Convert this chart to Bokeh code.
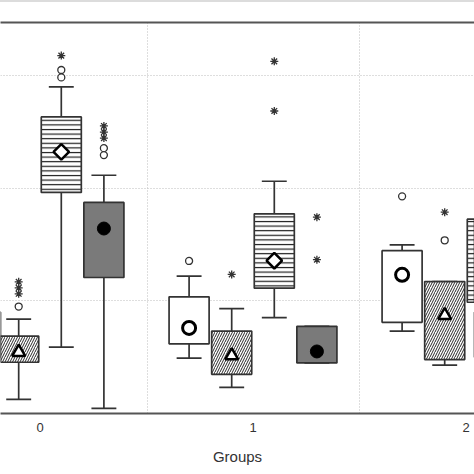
import math
from bokeh.plotting import figure
from bokeh.models import ColumnDataSource, FixedTicker, LinearAxis, Range1d, Div
from bokeh.layouts import column
from bokeh.embed import file_html
from bokeh.resources import INLINE

# ---------------- data ----------------
groups = [0, 1, 2]
group_labels = ["0", "1", "2"]
x_title = "Groups"

series_names = ["circle", "triangle", "diamond", "dot"]
offsets = [-0.3, -0.1, 0.1, 0.3]

# lower whisker, Q1, centre marker, Q3, upper whisker for groups 0, 1, 2
circle_lo = [3.0, 4.91, 7.32]
circle_q1 = [5.0, 6.19, 8.10]
circle_mid = [7.0, 7.60, 12.32]
circle_q3 = [9.0, 10.36, 14.46]
circle_hi = [12.0, 12.20, 14.97]

triangle_lo = [1.25, 2.32, 4.29]
triangle_q1 = [4.55, 3.48, 4.79]
triangle_mid = [5.45, 5.15, 8.72]
triangle_q3 = [6.88, 7.32, 11.72]
triangle_hi = [8.39, 9.31, 11.72]

diamond_lo = [5.89, 8.51, 7.0]
diamond_q1 = [19.64, 11.13, 9.88]
diamond_mid = [23.24, 13.57, 13.0]
diamond_q3 = [26.34, 17.74, 17.26]
diamond_hi = [29.02, 20.63, 20.0]

dot_lo = [0.45, 4.49, 3.0]
dot_q1 = [12.08, 4.49, 5.0]
dot_mid = [16.43, 5.51, 7.0]
dot_q3 = [18.75, 7.74, 9.0]
dot_hi = [21.16, 7.74, 11.0]

# outliers (o = open circle, x = extreme, drawn as asterisk)
circle_o_grp = [1, 2]
circle_o_val = [13.55, 19.29]
circle_x_grp = []
circle_x_val = []

triangle_o_grp = [0, 2]
triangle_o_val = [9.50, 15.38]
triangle_x_grp = [0, 0, 0, 1, 2]
triangle_x_val = [11.70, 11.16, 10.63, 12.35, 17.88]

diamond_o_grp = [0, 0]
diamond_o_val = [30.51, 29.85]
diamond_x_grp = [0, 1, 1]
diamond_x_val = [31.79, 31.28, 26.87]

dot_o_grp = [0, 0]
dot_o_val = [23.57, 22.95]
dot_x_grp = [0, 0, 0, 1, 1]
dot_x_val = [25.54, 25.00, 24.46, 17.44, 13.66]

# ---------------- figure ----------------
LINE = "#333333"
BOX_W = 0.188
CAP_W = 0.117

p = figure(width=474, height=472, output_backend="svg", toolbar_location=None,
           x_range=Range1d(-0.1854, 2.0399), y_range=Range1d(0, 34.73),
           y_axis_location=None, min_border_left=0, min_border_right=0,
           min_border_top=20, min_border_bottom=61)
p.outline_line_color = None
p.background_fill_color = "white"
p.border_fill_color = "white"

p.xgrid.ticker = FixedTicker(ticks=[0.505, 1.5])
p.ygrid.ticker = FixedTicker(ticks=[10, 20, 30])
for g in (p.xgrid, p.ygrid):
    g.grid_line_color = "#bdbdbd"
    g.grid_line_dash = "1 2"
    g.grid_line_width = 1

xa = p.xaxis[0]
xa.ticker = FixedTicker(ticks=groups)
xa.major_label_overrides = {g: l for g, l in zip(groups, group_labels)}
xa.axis_label = x_title
xa.axis_label_text_font = "Liberation Sans"
xa.axis_label_text_font_style = "normal"
xa.axis_label_text_font_size = "15px"
xa.axis_label_text_color = "#333333"
xa.axis_label_standoff = 13
xa.major_label_text_font = "Liberation Sans"
xa.major_label_text_font_size = "13px"
xa.major_label_text_color = "#333333"
xa.major_label_standoff = 9
xa.major_tick_in = 0
xa.major_tick_out = 0
xa.minor_tick_in = 0
xa.minor_tick_out = 0
xa.axis_line_color = "#555555"
xa.axis_line_width = 2

top = LinearAxis(ticker=FixedTicker(ticks=[]), major_tick_in=0, major_tick_out=0,
                 minor_tick_in=0, minor_tick_out=0, axis_line_color="#555555",
                 axis_line_width=2, major_label_standoff=0)
p.add_layout(top, "above")

all_series = {
    "circle": (circle_lo, circle_q1, circle_mid, circle_q3, circle_hi,
               circle_o_grp, circle_o_val, circle_x_grp, circle_x_val),
    "triangle": (triangle_lo, triangle_q1, triangle_mid, triangle_q3, triangle_hi,
                 triangle_o_grp, triangle_o_val, triangle_x_grp, triangle_x_val),
    "diamond": (diamond_lo, diamond_q1, diamond_mid, diamond_q3, diamond_hi,
                diamond_o_grp, diamond_o_val, diamond_x_grp, diamond_x_val),
    "dot": (dot_lo, dot_q1, dot_mid, dot_q3, dot_hi,
            dot_o_grp, dot_o_val, dot_x_grp, dot_x_val),
}

box_style = {
    "circle": dict(fill_color="white"),
    "triangle": dict(fill_color="white", hatch_pattern="/", hatch_color="#2a2a2a",
                     hatch_scale=5, hatch_weight=1),
    "diamond": dict(fill_color="white", hatch_pattern="-", hatch_color="#1a1a1a",
                    hatch_scale=4.6, hatch_weight=1.2),
    "dot": dict(fill_color="#7a7a7a"),
}
mid_style = {
    "circle": dict(marker="circle", size=13, fill_color="white", line_color="black", line_width=3),
    "triangle": dict(marker="triangle", size=13, fill_color="white", line_color="black", line_width=2.5),
    "diamond": dict(marker="square", angle=math.pi / 4, size=11, fill_color="white",
                    line_color="black", line_width=2.5),
    "dot": dict(marker="circle", size=13, fill_color="black", line_color="black", line_width=1),
}

for name, off in zip(series_names, offsets):
    lo, q1, mid, q3, hi, og, ov, xg, xv = all_series[name]
    xs = [g + off for g in groups]
    src = ColumnDataSource(dict(x=xs, lo=lo, q1=q1, mid=mid, q3=q3, hi=hi,
                                cl=[x - CAP_W / 2 for x in xs],
                                cr=[x + CAP_W / 2 for x in xs]))
    p.segment(x0="x", y0="q3", x1="x", y1="hi", source=src, line_color=LINE, line_width=1.7)
    p.segment(x0="x", y0="q1", x1="x", y1="lo", source=src, line_color=LINE, line_width=1.7)
    p.segment(x0="cl", y0="hi", x1="cr", y1="hi", source=src, line_color=LINE, line_width=1.7)
    p.segment(x0="cl", y0="lo", x1="cr", y1="lo", source=src, line_color=LINE, line_width=1.7)
    p.vbar(x="x", bottom="q1", top="q3", width=BOX_W, source=src,
           line_color=LINE, line_width=1.7, **box_style[name])
    p.scatter(x="x", y="mid", source=src, **mid_style[name])
    p.scatter(x=[g + off for g in og], y=ov, marker="circle", size=7,
              fill_color="white", line_color=LINE, line_width=1.3)
    p.scatter(x=[g + off for g in xg], y=xv, marker="asterisk", size=8,
              line_color=LINE, line_width=1.3)

band = Div(text="", width=474, height=2, margin=(0, 0, 0, 0),
           styles={"background-color": "#dcdcdc"})
layout = column(band, p, spacing=0, margin=(0, 0, 0, 0))

open("out.html", "w").write(file_html(layout, INLINE))
